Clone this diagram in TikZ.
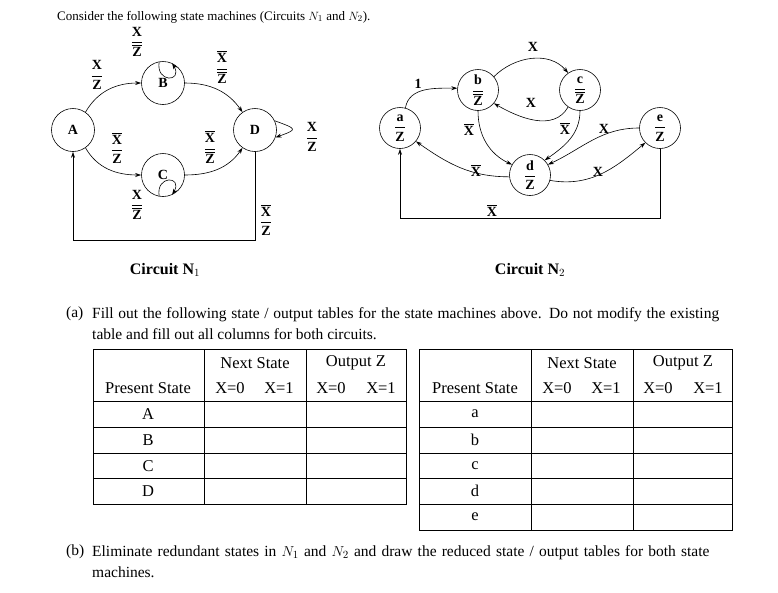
\documentclass[tikz,border=0pt]{standalone}
\usepackage{amsmath}
\usepackage{fontspec}
\setmainfont{Liberation Serif}
\usetikzlibrary{arrows.meta}
\newcommand{\fr}[2]{$\genfrac{}{}{0.6pt}{0}{#1}{#2}$}
\newcommand{\tbf}[1]{\textbf{#1}}
\newcommand{\bX}{\overline{\textbf{X}}}
\newcommand{\bZ}{\overline{\textbf{Z}}}
\begin{document}
\begin{tikzpicture}[x=1pt,y=-1pt,
  st/.style={circle,draw,line width=0.6pt,minimum size=43pt,inner sep=0pt,font=\bfseries\fontsize{14}{14}\selectfont},
  st2/.style={st,minimum size=41pt},
  lab/.style={font=\fontsize{14}{14}\selectfont,inner sep=0pt},
  arr/.style={line width=0.6pt,-{Stealth[length=6pt,width=4pt]}},
  tl/.style={line width=0.6pt},
  tt/.style={font=\fontsize{16.5}{16.5}\selectfont,inner sep=0pt}]
\useasboundingbox (0,0) rectangle (778,592);
\node[anchor=west,font=\fontsize{13}{14}\selectfont,inner sep=0pt] (title) at (57,17) {Consider the following state machines (Circuits $N_1$ and $N_2$).};
% Circuit N1
\node[st] (A) at (73,130) {A};
\node[st] (B) at (163,83) {B};
\node[st] (C) at (163,175) {C};
\node[st] (D) at (255,130) {D};
\draw[arr] (A.55) to[out=60,in=180] (B.west);
\draw[arr] (B.east) to[out=0,in=125] (D.125);
\draw[arr] (A.-55) to[out=-60,in=180] (C.west);
\draw[arr] (C.east) to[out=0,in=-125] (D.-125);
\draw[arr] (B.100) .. controls +(100:22) and +(60:22) .. (B.65);
\draw[arr] (C.-100) .. controls +(-100:22) and +(-60:22) .. (C.-65);
\draw[arr] (D.25) .. controls +(20:24) and +(-20:24) .. (D.-20);
\coordinate (d1) at (255,240);
\coordinate (d2) at (73,240);
\draw[arr] (D.south) -- (d1) -- (d2) -- (A.south);
\node[lab] (l1) at (97,75) {\fr{\tbf{X}}{\tbf{Z}}};
\node[lab] (l2) at (137,42) {\fr{\tbf{X}}{\bZ}};
\node[lab] (l3) at (222,67) {\fr{\bX}{\bZ}};
\node[lab] (l4) at (117,148) {\fr{\bX}{\tbf{Z}}};
\node[lab] (l5) at (210,147) {\fr{\bX}{\bZ}};
\node[lab] (l6) at (137,205) {\fr{\tbf{X}}{\bZ}};
\node[lab] (l7) at (312,137) {\fr{\tbf{X}}{\tbf{Z}}};
\node[lab] (l8) at (266,220) {\fr{\bX}{\tbf{Z}}};
\node[font=\bfseries\fontsize{16}{16}\selectfont] (c1) at (165,270) {Circuit N$_1$};
% Circuit N2
\node[st2] (a) at (400,128) {\fr{\tbf{a}}{\tbf{Z}}};
\node[st2] (b) at (478,90) {\fr{\tbf{b}}{\bZ}};
\node[st2] (c) at (580,90) {\fr{\tbf{c}}{\bZ}};
\node[st2] (d) at (530,175) {\fr{\tbf{d}}{\tbf{Z}}};
\node[st2] (e) at (660,128) {\fr{\tbf{e}}{\tbf{Z}}};
\draw[arr] (a.75) to[out=80,in=180] (b.175);
\draw[arr] (b.40) to[out=45,in=130] (c.125);
\draw[arr] (c.-125) to[out=-120,in=-30] (b.-40);
\draw[arr] (b.-90) to[out=-90,in=155] (d.150);
\draw[arr] (c.-90) to[out=-90,in=35] (d.45);
\draw[arr] (e.180) to[out=180,in=25] (d.30);
\draw[arr] (d.-15) to[out=-10,in=-140] (e.-135);
\draw[arr] (d.185) to[out=180,in=-35] (a.-40);
\coordinate (e1) at (660,218);
\coordinate (e2) at (400,218);
\draw[arr] (e.south) -- (e1) -- (e2) -- (a.south);
\node[lab] (m1) at (418,84) {\textbf{1}};
\node[lab] (m2) at (533,47) {\textbf{X}};
\node[lab] (m3) at (531,103) {\textbf{X}};
\node[lab] (m4) at (469,129) {$\bX$};
\node[lab] (m5) at (565,128) {$\bX$};
\node[lab] (m6) at (604,129) {\textbf{X}};
\node[lab] (m7) at (598,172) {\textbf{X}};
\node[lab] (m8) at (476,170) {$\bX$};
\node[lab] (m9) at (492,210) {$\bX$};
\node[font=\bfseries\fontsize{16}{16}\selectfont] (c2) at (530,270) {Circuit N$_2$};
% text (a)
\node[anchor=north west,inner sep=0pt,font=\fontsize{15.5}{21}\selectfont] (ta) at (66,307) {(a)};
\node[anchor=north west,inner sep=0pt,text width=627pt,align=justify,font=\fontsize{15.5}{21}\selectfont] (tatext) at (92,307) {Fill out the following state / output tables for the state machines above. Do not modify the existing table and fill out all columns for both circuits.};
\node[anchor=north west,inner sep=0pt,font=\fontsize{15.5}{21}\selectfont] (tb) at (66,545) {(b)};
\node[anchor=north west,inner sep=0pt,text width=627pt,align=left,font=\fontsize{15.5}{21}\selectfont] (tbtext) at (92,545) {Eliminate redundant states in $N_1$ and $N_2$ and draw the reduced state / output tables for both state machines.};
% left table
\draw[tl] (93,349) rectangle (406,504);
\draw[tl] (204,349) -- (204,504) (306,349) -- (306,504);
\foreach \y in {401,427,453,478} \draw[tl] (93,\y) -- (406,\y);
\node[tt] (h1) at (148,388) {Present State};
\node[tt] (h2) at (255,363) {Next State};
\node[tt] (h3) at (356,363) {Output Z};
\node[tt] (h4) at (230,388) {X=0};
\node[tt] (h5) at (279,388) {X=1};
\node[tt] (h6) at (331,388) {X=0};
\node[tt] (h7) at (381,388) {X=1};
\foreach \t/\y in {A/414,B/440,C/466,D/491} \node[tt] at (148,\y) {\t};
% right table
\draw[tl] (419,349) rectangle (732,530);
\draw[tl] (531,349) -- (531,530) (633,349) -- (633,530);
\foreach \y in {401,427,453,478,504} \draw[tl] (419,\y) -- (732,\y);
\node[tt] (r1) at (475,388) {Present State};
\node[tt] (r2) at (582,363) {Next State};
\node[tt] (r3) at (683,363) {Output Z};
\node[tt] (r4) at (557,388) {X=0};
\node[tt] (r5) at (606,388) {X=1};
\node[tt] (r6) at (658,388) {X=0};
\node[tt] (r7) at (708,388) {X=1};
\foreach \t/\y in {a/414,b/440,c/466,d/491,e/517} \node[tt] at (475,\y) {\t};
\end{tikzpicture}
\end{document}
